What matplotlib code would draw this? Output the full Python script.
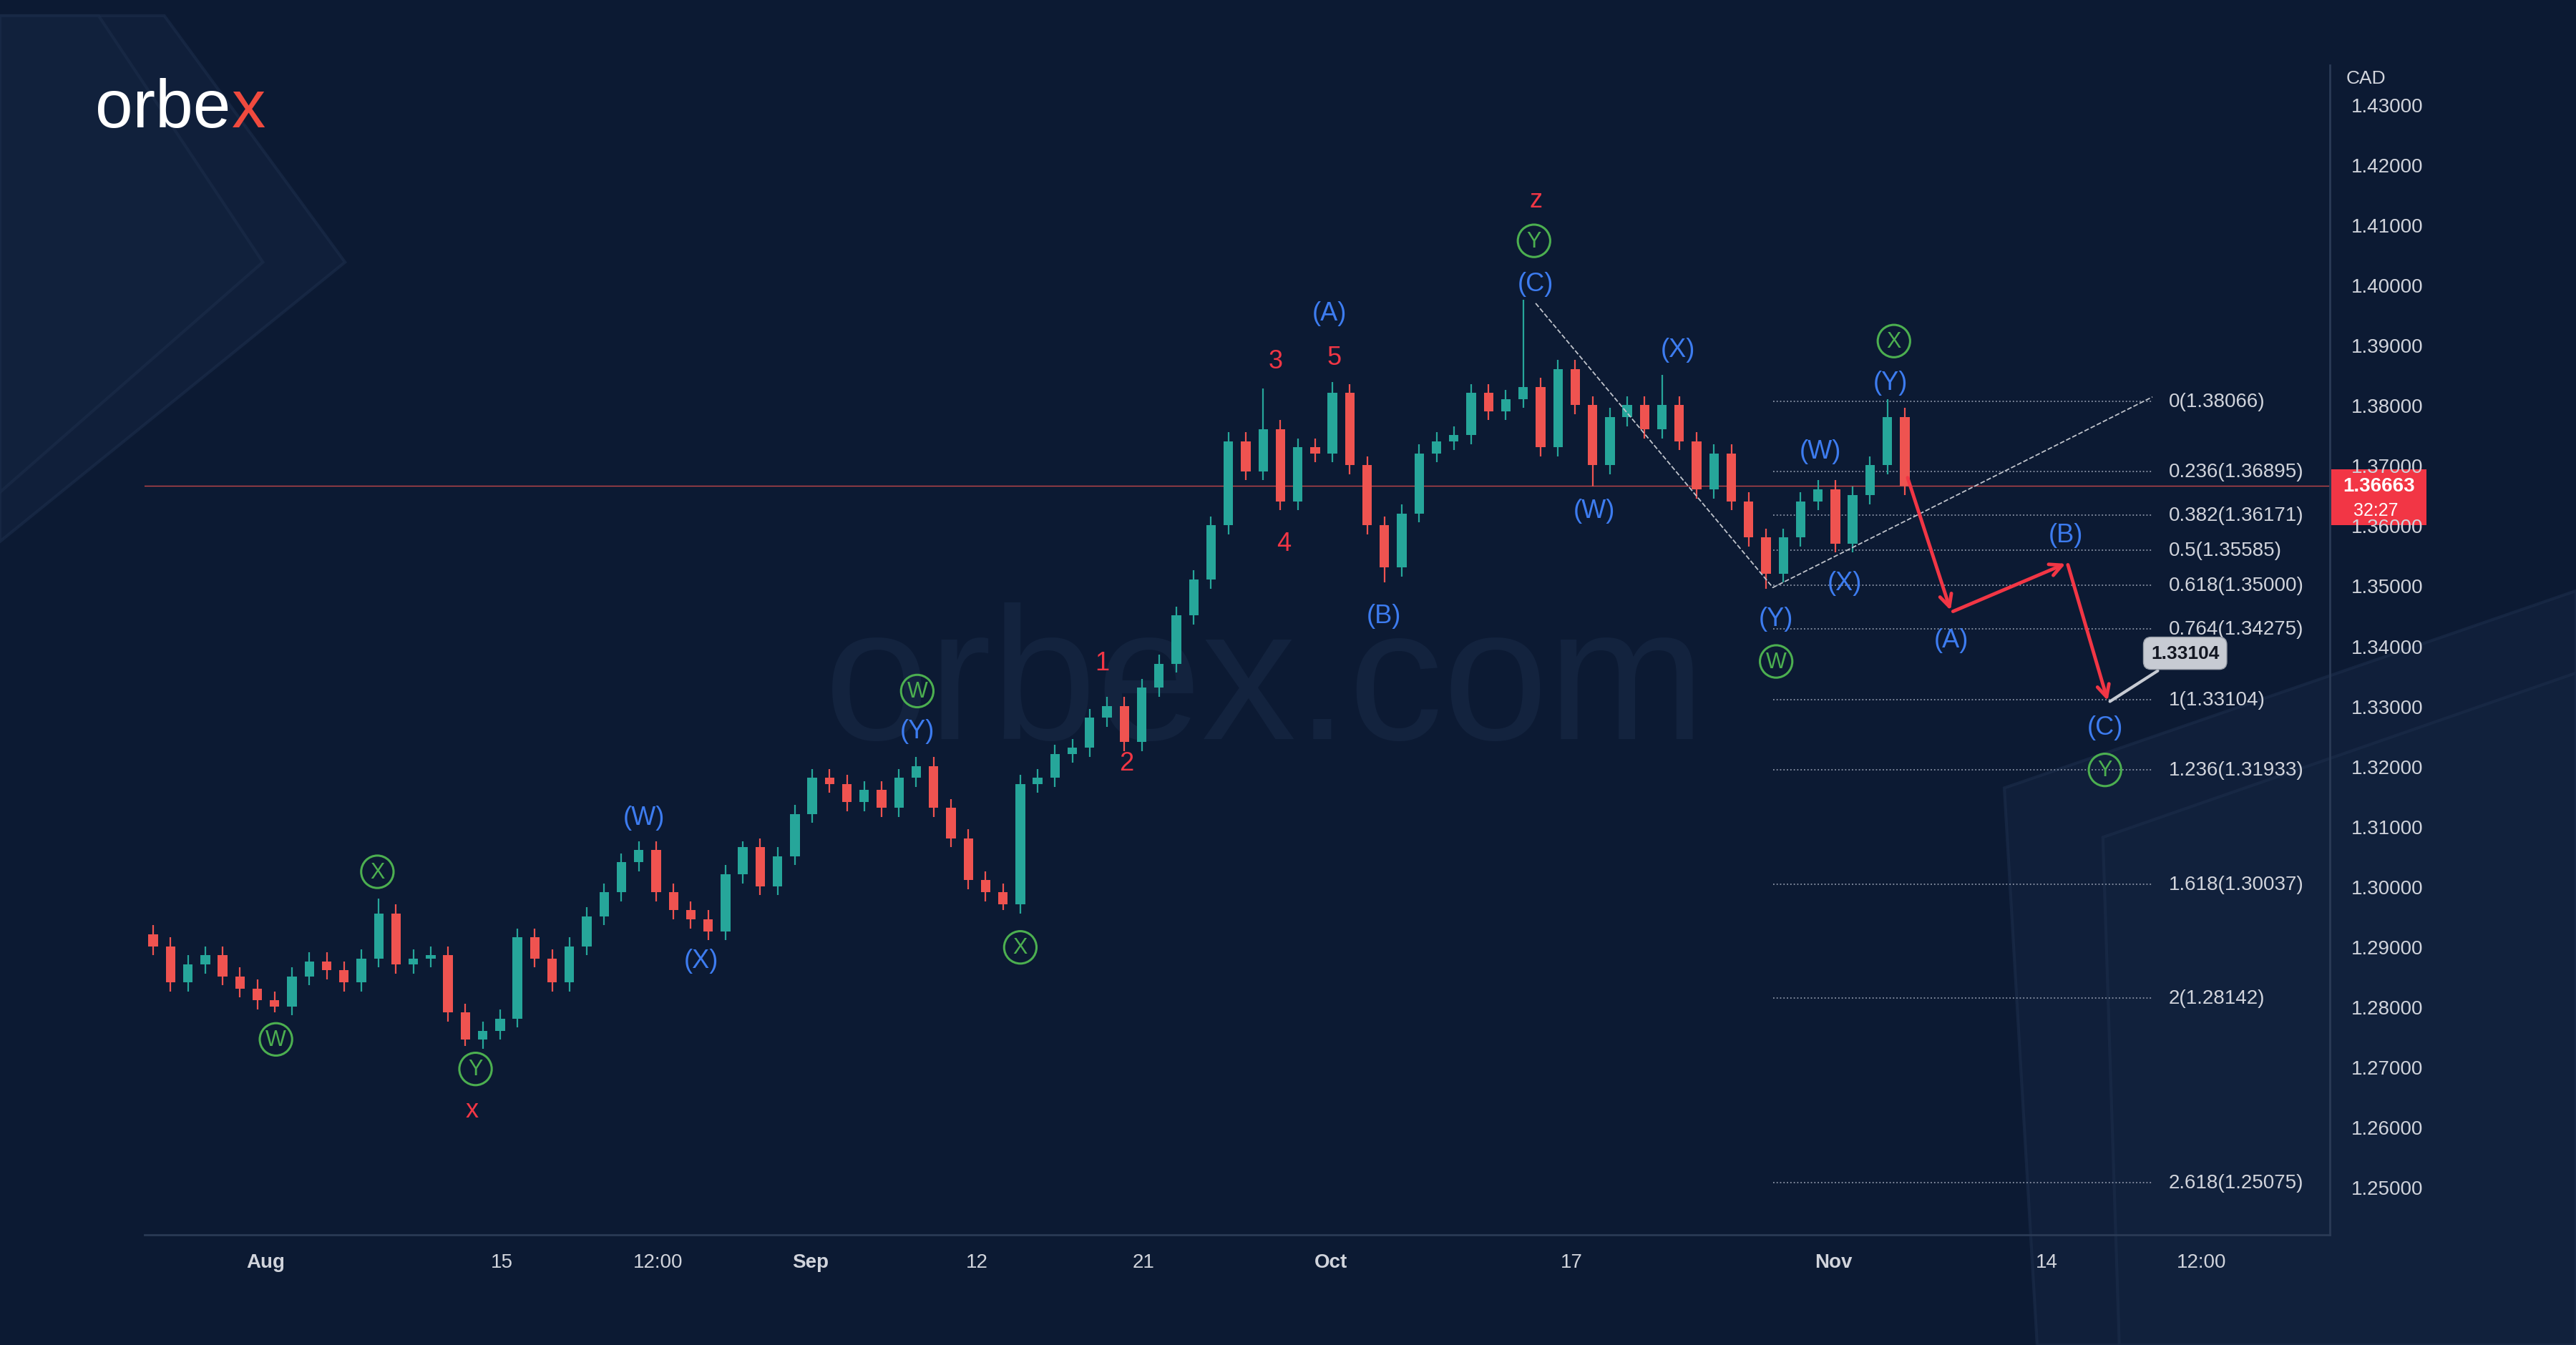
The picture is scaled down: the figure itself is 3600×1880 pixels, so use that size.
import numpy as np
import matplotlib
matplotlib.use('Agg')
import matplotlib.pyplot as plt
from matplotlib.patches import Polygon, FancyBboxPatch

plt.rcParams['font.family'] = ['Liberation Sans', 'DejaVu Sans']

BG = '#0c1a33'
closes = [1.2900, 1.2840, 1.2870, 1.2885, 1.2850, 1.2830, 1.2810, 1.2800, 1.2850, 1.2875,
          1.2860, 1.2840, 1.2880, 1.2955, 1.2870, 1.2880, 1.2885, 1.2790, 1.2745, 1.2760,
          1.2780, 1.2915, 1.2880, 1.2840, 1.2900, 1.2950, 1.2990, 1.3040, 1.3060, 1.2990,
          1.2960, 1.2945, 1.2925, 1.3020, 1.3065, 1.3000, 1.3050, 1.3120, 1.3180, 1.3170,
          1.3140, 1.3160, 1.3130, 1.3180, 1.3200, 1.3130, 1.3080, 1.3010, 1.2990, 1.2970,
          1.3170, 1.3180, 1.3220, 1.3230, 1.3280, 1.3300, 1.3240, 1.3330, 1.3370, 1.3450,
          1.3510, 1.3600, 1.3740, 1.3690, 1.3760, 1.3640, 1.3730, 1.3720, 1.3820, 1.3700,
          1.3600, 1.3530, 1.3620, 1.3720, 1.3740, 1.3750, 1.3820, 1.3790, 1.3810, 1.3830,
          1.3730, 1.3860, 1.3800, 1.3700, 1.3780, 1.3800, 1.3760, 1.3800, 1.3740, 1.3660,
          1.3720, 1.3640, 1.3580, 1.3520, 1.3580, 1.3640, 1.3660, 1.3570, 1.3650, 1.3700,
          1.3780, 1.3666]
open0 = 1.2920
extreme_highs = {79: 1.3975, 68: 1.3838, 64: 1.3828, 44: 1.3215, 13: 1.2980, 87: 1.3850, 100: 1.3810, 34: 1.3075}
extreme_lows = {18: 1.2735, 7: 1.2790, 49: 1.2960, 71: 1.3505, 93: 1.3495, 65: 1.3625, 83: 1.3665}

fib_levels = ['0', '0.236', '0.382', '0.5', '0.618', '0.764', '1', '1.236', '1.618', '2', '2.618']
fib_prices = [1.38066, 1.36895, 1.36171, 1.35585, 1.35000, 1.34275, 1.33104, 1.31933, 1.30037, 1.28142, 1.25075]

xtick_pos = [6.5, 20.1, 29.1, 37.9, 47.5, 57.1, 67.9, 81.8, 96.9, 109.2, 118.1]
xtick_lab = ['Aug', '15', '12:00', 'Sep', '12', '21', 'Oct', '17', 'Nov', '14', '12:00']
bold_ticks = {'Aug', 'Sep', 'Oct', 'Nov'}

last_price = 1.36663


# display-pixel (1568x819 preview) -> data helpers for annotation placement
def fx(px):
    return (px - 88) / 10.6


def fy(py):
    return 1.38 - (py - 247) / 3660.0


red_labels = [('z', 933, 122), ('x', 283, 676), ('1', 668, 404), ('2', 683, 465),
              ('3', 774, 220), ('4', 779, 331), ('5', 810, 218)]
blue_labels = [('(A)', 807, 191), ('(B)', 840, 375), ('(C)', 933, 173), ('(W)', 388, 498),
               ('(X)', 423, 585), ('(Y)', 555, 445), ('(W)', 969, 311), ('(X)', 1020, 213),
               ('(Y)', 1080, 377), ('(W)', 1107, 275), ('(X)', 1122, 355), ('(Y)', 1150, 233),
               ('(A)', 1187, 390), ('(B)', 1257, 326), ('(C)', 1281, 443)]
green_labels = [('W', 163, 633), ('X', 225, 531), ('Y', 285, 651), ('W', 555, 421), ('X', 618, 577),
                ('Y', 932, 147), ('W', 1080, 403), ('X', 1152, 208), ('Y', 1281, 469)]
arrow_path = [(1160, 290), (1187, 373), (1258, 343), (1283, 428)]

fig = plt.figure(figsize=(36, 18.81), dpi=100, facecolor=BG)

# faint background shapes
bgax = fig.add_axes([0, 0, 1, 1]); bgax.set_xlim(0, 1568); bgax.set_ylim(819, 0); bgax.axis('off')
bgax.set_facecolor(BG)
for poly in [[(0, 10), (100, 10), (210, 160), (0, 330)], [(0, 10), (60, 10), (160, 160), (0, 300)],
             [(1220, 480), (1568, 360), (1568, 819), (1240, 819)], [(1280, 510), (1568, 410), (1568, 819), (1290, 819)]]:
    bgax.add_patch(Polygon(poly, closed=True, fc='#12223d', ec='#1a2b48', lw=3, alpha=0.7))
bgax.text(770, 420, 'orbex.com', fontsize=190, color='#13233e', ha='center', va='center', zorder=1)
bgax.text(58, 67, 'orbe', fontsize=68, color='white', ha='left', va='center')
bgax.text(141, 67, 'x', fontsize=68, color='#f04a3e', ha='left', va='center')

ax = fig.add_axes([88 / 1568, 1 - 752 / 819, (1418 - 88) / 1568, (752 - 40) / 819])
ax.set_facecolor('none')
ax.set_xlim(-0.5, 125.5)
ax.set_ylim(fy(752), fy(40))

opens = [open0] + closes[:-1]
for i, (o, c) in enumerate(zip(opens, closes)):
    col = '#26a69a' if c >= o else '#ef5350'
    hi = extreme_highs.get(i, max(o, c) + 0.0015)
    lo = extreme_lows.get(i, min(o, c) - 0.0015)
    ax.vlines(i, lo, hi, color=col, lw=1.6, zorder=3)
    ax.bar(i, max(abs(c - o), 0.0004), bottom=min(o, c), width=0.55, color=col, zorder=4)

ax.axhline(last_price, color='#ef5350', lw=1, alpha=0.8, zorder=2)

x0, x1 = fx(1078), fx(1310)
for lev, p in zip(fib_levels, fib_prices):
    ax.plot([x0, x1], [p, p], ls=':', color='#8a93a6', lw=1.3, zorder=2)
    ax.text(fx(1320), p, f'{lev}({p:.5f})', color='#d1d4dc', fontsize=20, va='center', ha='left', zorder=6)

ax.plot([fx(933), fx(1078), fx(1310)], [fy(185), fy(358), fy(242)], ls='--', color='#c0c4cc', lw=1.3, zorder=5)

for (ax_, ay_), (bx_, by_) in zip(arrow_path[:-1], arrow_path[1:]):
    ax.annotate('', xy=(fx(bx_), fy(by_)), xytext=(fx(ax_), fy(ay_)),
                arrowprops=dict(arrowstyle='->,head_length=1.2,head_width=0.6', color='#f23645', lw=3.5), zorder=7)

ax.annotate('1.33104', xy=(fx(1283), fy(428)), xytext=(fx(1330), fy(398)), fontsize=19, color='#131722',
            ha='center', va='center', fontweight='bold',
            bbox=dict(boxstyle='round,pad=0.4', fc='#c7cbd3', ec='#9aa0aa'),
            arrowprops=dict(arrowstyle='-', color='#c7cbd3', lw=3), zorder=8)

for t, px, py in red_labels:
    ax.text(fx(px), fy(py), t, color='#f23645', fontsize=26, ha='center', va='center', zorder=8)
for t, px, py in blue_labels:
    ax.text(fx(px), fy(py), t, color='#3d7cf0', fontsize=26, ha='center', va='center', zorder=8)
for t, px, py in green_labels:
    ax.text(fx(px), fy(py), t, color='#4caf50', fontsize=22, ha='center', va='center', zorder=8,
            bbox=dict(boxstyle='circle,pad=0.25', fc='none', ec='#4caf50', lw=2.2))

for s in ['top', 'left']:
    ax.spines[s].set_visible(False)
ax.spines['right'].set_color('#2a3a55'); ax.spines['bottom'].set_color('#2a3a55')
ax.spines['right'].set_linewidth(2); ax.spines['bottom'].set_linewidth(2)
ax.yaxis.tick_right()
yt = np.round(np.arange(1.25, 1.435, 0.01), 2)
ax.set_yticks(yt)
ax.set_yticklabels([f'{v:.5f}' for v in yt], color='#d1d4dc', fontsize=20)
ax.tick_params(axis='y', length=0, pad=22)
ax.set_xticks(xtick_pos)
ax.set_xticklabels(xtick_lab, color='#d1d4dc', fontsize=20)
for lab in ax.get_xticklabels():
    if lab.get_text() in bold_ticks:
        lab.set_fontweight('bold')
ax.tick_params(axis='x', length=0, pad=18)
ax.grid(False)

bgax.text(1428, 48, 'CAD', color='#d1d4dc', fontsize=19, va='center', ha='left')
bgax.add_patch(FancyBboxPatch((1419, 286), 58, 34, boxstyle='square,pad=0', fc='#f23645', ec='none', zorder=9))
bgax.text(1448, 296, f'{last_price:.5f}', color='white', fontsize=20, ha='center', va='center', zorder=10, fontweight='bold')
bgax.text(1446, 311, '32:27', color='white', fontsize=18, ha='center', va='center', zorder=10)

fig.savefig('out.png', dpi=100, facecolor=BG)
